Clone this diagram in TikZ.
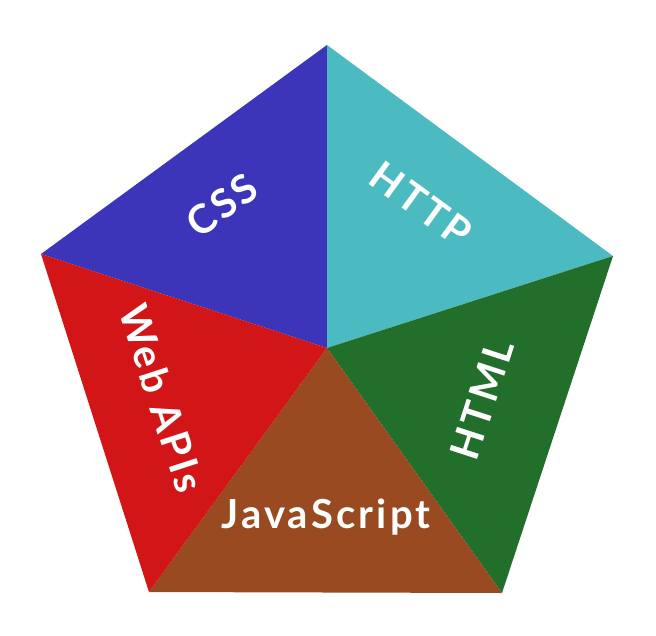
\documentclass[tikz,border=0pt]{standalone}
\usepackage{fontspec}
\setmainfont{Lato}[LetterSpace=8]
\definecolor{cssblue}{HTML}{3C35B9}
\definecolor{httpteal}{HTML}{4BBBC1}
\definecolor{htmlgreen}{HTML}{226E2B}
\definecolor{jsbrown}{HTML}{9A4A21}
\definecolor{webred}{HTML}{D21618}
\begin{document}
\begin{tikzpicture}[x=1pt,y=-1pt,
  lbl/.style={text=white,font=\fontsize{40}{40}\selectfont\bfseries,inner sep=0pt}]
\useasboundingbox (0,0) rectangle (656,635);
\coordinate (C) at (327,348);
\coordinate (T) at (327,45);
\coordinate (R) at (613,256);
\coordinate (BR) at (502,593);
\coordinate (BL) at (149,592);
\coordinate (L) at (41,254);
\fill[cssblue] (C) -- (L) -- (T) -- cycle;
\fill[httpteal] (C) -- (T) -- (R) -- cycle;
\fill[htmlgreen] (C) -- (R) -- (BR) -- cycle;
\fill[jsbrown] (C) -- (BR) -- (BL) -- cycle;
\fill[webred] (C) -- (BL) -- (L) -- cycle;
\node[lbl,rotate=36] (css) at (222,205) {CSS};
\node[lbl,rotate=-36] (http) at (421,204) {HTTP};
\node[lbl,rotate=72] (html) at (482,400) {HTML};
\node[lbl,rotate=-72] (web) at (162,398) {Web APIs};
\node[lbl] (js) at (326,517) {JavaScript};
\end{tikzpicture}
\end{document}
